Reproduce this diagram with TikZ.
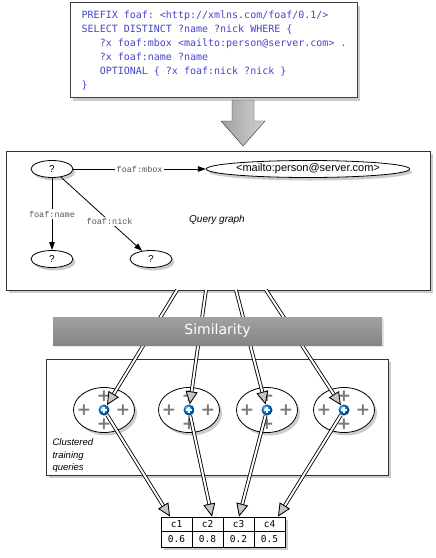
\documentclass[tikz,border=0pt]{standalone}
\usepackage{fontspec}
\setmainfont{Liberation Sans}
\setmonofont{DejaVu Sans Mono}
\newfontfamily\courfont{Liberation Mono}
\newfontfamily\verdfont{DejaVu Sans}
\usetikzlibrary{arrows.meta,shapes.geometric,shadows}
\definecolor{codeblue}{RGB}{70,70,200}
\definecolor{lblgray}{RGB}{85,85,85}
\begin{document}
\begin{tikzpicture}[
      x=1pt, y=-1pt,
      >={Triangle[length=8pt,width=5.5pt]},
      shad/.style={drop shadow={shadow xshift=2.5pt,shadow yshift=-3pt,opacity=0.4}},
      panel/.style={draw=black!80, line width=0.8pt, fill=white, shad},
      qnode/.style={ellipse, draw, line width=0.8pt, fill=white, minimum width=42pt,
        minimum height=17pt, inner sep=0pt, font=\fontsize{10}{12}\selectfont, shad},
      edgelbl/.style={fill=white, inner sep=1.5pt, text=lblgray,
        font=\courfont\fontsize{8.5}{10}\selectfont},
      cluster/.style={ellipse, draw, line width=0.8pt, fill=white, minimum width=61pt,
        minimum height=45pt, shad},
      plus/.style={text=black!52, inner sep=0pt, font=\verdfont\bfseries\fontsize{17}{17}\selectfont},
      centroid/.style={circle, inner sep=0pt, minimum size=11pt, ball color=blue!45!cyan,
        path picture={\draw[white, line width=1.5pt]
          ([xshift=-3pt]path picture bounding box.center) -- ([xshift=3pt]path picture bounding box.center)
          ([yshift=-3pt]path picture bounding box.center) -- ([yshift=3pt]path picture bounding box.center);}},
      simarrow/.style={double=white, double distance=2pt, line width=0.85pt,
        -{Triangle[length=13pt,width=12pt,fill=gray!45]}},
      cell/.style={draw, line width=0.8pt, fill=white, minimum width=31pt, inner sep=0pt,
        font=\ttfamily\fontsize{9.5}{11}\selectfont, shad},
    ]
    \useasboundingbox (0,0) rectangle (436,558);
    % SPARQL query
    \node[panel, draw=black!75, line width=1.3pt, anchor=north west, minimum width=287pt,
      minimum height=95pt, align=left, text=codeblue,
      font=\ttfamily\fontsize{10}{14}\selectfont] (code) at (70,2)
      {PREFIX foaf: <http://xmlns.com/foaf/0.1/>\\
       SELECT DISTINCT ?name ?nick WHERE \{\\
       \ \ \ ?x foaf:mbox <mailto:person@server.com> .\\
       \ \ \ ?x foaf:name ?name\\
       \ \ \ OPTIONAL \{ ?x foaf:nick ?nick \}\\
       \}};
    \draw[draw=gray!40!black, line width=0.4pt, left color=gray!75, right color=gray!35]
      (232,100) -- (254,100) -- (254,121) -- (265,121) -- (243,146) -- (221,121) -- (232,121) -- cycle;
    % query graph
    \node[panel, minimum width=424pt, minimum height=139pt] (qbox) at (218,220.5) {};
    \node[qnode] (qx) at (52,169) {?};
    \node[qnode, minimum width=183pt, font=\fontsize{11}{13}\selectfont] (qmbox) at (308,169)
      {<mailto:person@server.com>};
    \node[qnode] (qname) at (52,259) {?};
    \node[qnode] (qnick) at (151,259) {?};
    \node[font=\itshape\fontsize{10}{12}\selectfont] (qlbl) at (217,220) {Query graph};
    \draw[->, line width=0.8pt] (qx) -- node[edgelbl] {foaf:mbox} (qmbox);
    \draw[->, line width=0.8pt] (qx) -- node[edgelbl] {foaf:name} (qname);
    \draw[->, line width=0.8pt] (qx) -- node[edgelbl, pos=0.6] {foaf:nick} (qnick);
    % clusters
    \node[panel, minimum width=342pt, minimum height=116pt] (cbox) at (217,417) {};
    \node[anchor=west, align=left, font=\itshape\fontsize{9.5}{12.5}\selectfont] (clbl) at (49,456)
      {Clustered\\training\\queries};
    \foreach \x [count=\i] in {104,189,267,344} {
      \node[cluster] (e\i) at (\x,410) {};
      \node[plus] (pt\i) at ([yshift=14pt]e\i) {+};
      \node[plus] (pb\i) at ([yshift=-14pt]e\i) {+};
      \node[plus] (pl\i) at ([xshift=-20pt]e\i) {+};
      \node[plus] (pr\i) at ([xshift=19pt]e\i) {+};
      \node[centroid] (b\i) at (e\i) {};
    }
    % scores
    \foreach \v [count=\i] in {0.6,0.8,0.2,0.5} {
      \node[cell, minimum height=14pt] (h\i) at ({145.5+31*\i},524) {c\i};
      \node[cell, minimum height=16pt] (v\i) at ({145.5+31*\i},539) {\v};
    }
    \coordinate (s1) at (177,290);
    \coordinate (s2) at (206,290);
    \coordinate (s3) at (236,290);
    \coordinate (s4) at (266,290);
    \foreach \i in {1,...,4} \draw[simarrow] (s\i) -- (b\i);
    \draw[simarrow] (b1) -- ([xshift=-6.5pt]h1.north);
    \draw[simarrow] (b2) -- ([xshift=4.5pt]h2.north);
    \draw[simarrow] (b3) -- ([xshift=0.5pt]h3.north);
    \draw[simarrow] (b4) -- ([xshift=8.5pt]h4.north);
    \node[minimum width=329pt, minimum height=28pt, top color=black!37, bottom color=black!48,
      text=white, font=\verdfont\fontsize{14}{16}\selectfont,
      drop shadow={shadow xshift=1.5pt,shadow yshift=-2pt,opacity=0.2}] (sim) at (217.5,331) {Similarity};
\end{tikzpicture}
\end{document}
